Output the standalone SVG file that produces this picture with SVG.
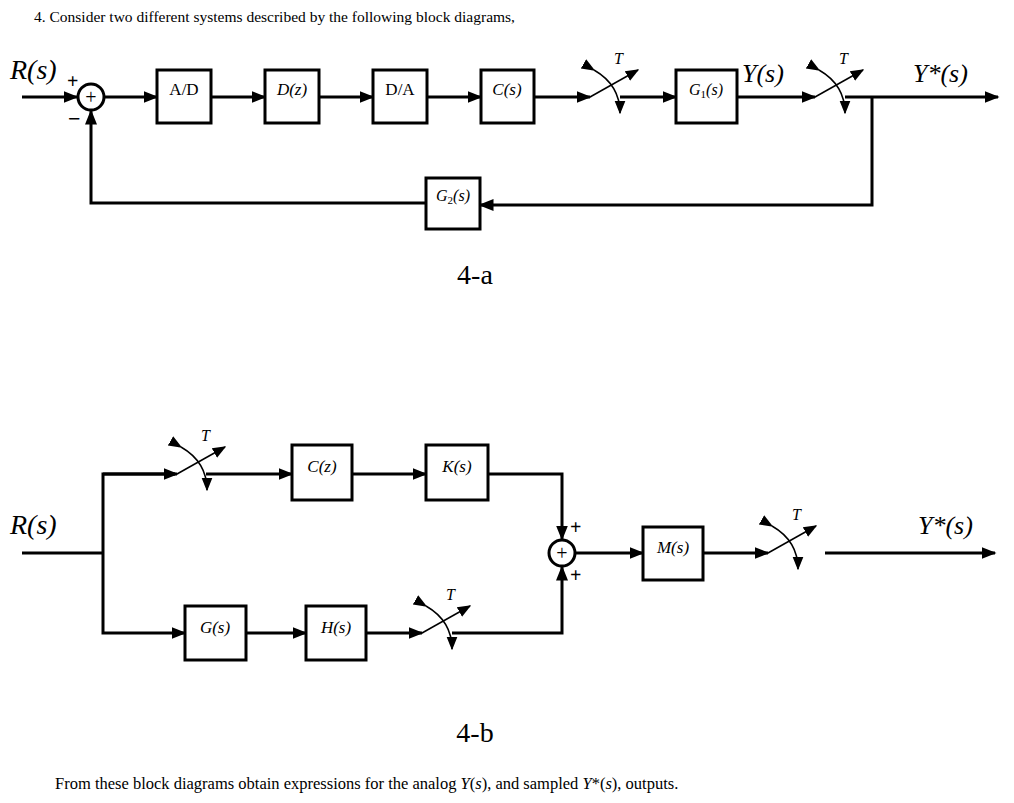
<svg xmlns="http://www.w3.org/2000/svg" xmlns:xlink="http://www.w3.org/1999/xlink" width="1014" height="803" viewBox="0 0 1014 803">
<style>
.w{stroke:#000;stroke-width:3;fill:none}
.b{stroke:#000;stroke-width:3;fill:#fff}
.t{font-family:'Liberation Serif','DejaVu Serif',serif;fill:#000}
.i{font-family:'Liberation Serif','DejaVu Serif',serif;font-style:italic;fill:#000}
.s{stroke:#000;stroke-width:1.5;fill:none}
</style>
<defs>
<marker id="a" viewBox="0 0 10 10" refX="9" refY="5" markerWidth="5" markerHeight="5" orient="auto" markerUnits="strokeWidth"><path d="M0,1 L10,5 L0,9 z"/></marker>
<marker id="as" viewBox="0 0 10 10" refX="9" refY="5" markerWidth="9" markerHeight="9" orient="auto" markerUnits="strokeWidth"><path d="M0,1 L10,5 L0,9 z"/></marker>
<g id="sw">
<line x1="0" y1="0" x2="48" y2="-27" class="s" marker-end="url(#as)"/>
<path d="M4,-27 Q30,-12 30,16" class="s" marker-start="url(#as)" marker-end="url(#as)"/>
<text x="24" y="-33" class="i" font-size="16">T</text>
</g>
</defs>
<text x="34" y="22" class="t" font-size="15.5">4. Consider two different systems described by the following block diagrams,</text>

<g id="connectors">
<line x1="22" y1="97" x2="77" y2="97" class="w" marker-end="url(#a)"/>
<line x1="104" y1="97" x2="157" y2="97" class="w" marker-end="url(#a)"/>
<line x1="211" y1="97" x2="265" y2="97" class="w" marker-end="url(#a)"/>
<line x1="319" y1="97" x2="373" y2="97" class="w" marker-end="url(#a)"/>
<line x1="427" y1="97" x2="481" y2="97" class="w" marker-end="url(#a)"/>
<line x1="534" y1="97" x2="590" y2="97" class="w" marker-end="url(#a)"/>
<line x1="620" y1="97" x2="676" y2="97" class="w" marker-end="url(#a)"/>
<line x1="737" y1="97" x2="815" y2="97" class="w" marker-end="url(#a)"/>
<line x1="845" y1="97" x2="998" y2="97" class="w" marker-end="url(#a)"/>
<polyline points="872,97 872,205 480,205" class="w" marker-end="url(#a)"/>
<polyline points="426,203 91,203 91,111" class="w" marker-end="url(#a)"/>

<line x1="22" y1="553" x2="103" y2="553" class="w"/>
<polyline points="175,474 103,474 103,633 185,633" class="w" marker-end="url(#a)"/>
<line x1="103" y1="474" x2="177" y2="474" class="w" marker-end="url(#a)"/>
<line x1="206" y1="474" x2="292" y2="474" class="w" marker-end="url(#a)"/>
<line x1="352" y1="474" x2="426" y2="474" class="w" marker-end="url(#a)"/>
<polyline points="488,474 562,474 562,539" class="w" marker-end="url(#a)"/>
<line x1="246" y1="633" x2="306" y2="633" class="w" marker-end="url(#a)"/>
<line x1="366" y1="633" x2="422" y2="633" class="w" marker-end="url(#a)"/>
<polyline points="452,633 562,633 562,567" class="w" marker-end="url(#a)"/>
<line x1="576" y1="553" x2="643" y2="553" class="w" marker-end="url(#a)"/>
<line x1="703" y1="553" x2="768" y2="553" class="w" marker-end="url(#a)"/>
<line x1="825" y1="553" x2="995" y2="553" class="w" marker-end="url(#a)"/>
</g>

<use xlink:href="#sw" x="590" y="97"/>
<use xlink:href="#sw" x="815" y="97"/>
<use xlink:href="#sw" x="177" y="474"/>
<use xlink:href="#sw" x="422" y="633"/>
<use xlink:href="#sw" x="768" y="553"/>

<text x="10" y="79" class="i" font-size="28">R(s)</text>
<text x="67" y="88" class="t" font-size="20" font-weight="bold">+</text>
<text x="68" y="126" class="t" font-size="22" font-weight="bold">−</text>
<text x="742" y="82" class="i" font-size="26">Y(s)</text>
<text x="913" y="82" class="i" font-size="26">Y*(s)</text>

<g id="sum1"><circle cx="91" cy="97" r="13" class="b"/><text x="91" y="104" class="t" font-size="20" text-anchor="middle">+</text></g>
<g id="ad"><rect x="157" y="70" width="54" height="53" class="b"/><text x="184" y="95" class="t" font-size="17" text-anchor="middle">A/D</text></g>
<g id="dz"><rect x="265" y="70" width="54" height="53" class="b"/><text x="292" y="95" class="i" font-size="17" text-anchor="middle">D(z)</text></g>
<g id="da"><rect x="373" y="70" width="54" height="53" class="b"/><text x="400" y="95" class="t" font-size="17" text-anchor="middle">D/A</text></g>
<g id="cs"><rect x="481" y="70" width="53" height="53" class="b"/><text x="507" y="95" class="i" font-size="17" text-anchor="middle">C(s)</text></g>
<g id="g1"><rect x="676" y="70" width="61" height="53" class="b"/><text x="706" y="95" class="i" font-size="16" text-anchor="middle">G<tspan font-size="11" dy="3" font-style="normal">1</tspan><tspan dy="-3">(s)</tspan></text></g>
<g id="g2"><rect x="426" y="178" width="54" height="51" class="b"/><text x="453" y="201" class="i" font-size="16" text-anchor="middle">G<tspan font-size="11" dy="3" font-style="normal">2</tspan><tspan dy="-3">(s)</tspan></text></g>
<text x="475" y="284" class="t" font-size="28" text-anchor="middle">4-a</text>

<text x="10" y="534" class="i" font-size="28">R(s)</text>
<text x="918" y="534" class="i" font-size="26">Y*(s)</text>
<text x="570" y="534" class="t" font-size="20" font-weight="bold">+</text>
<text x="570" y="582" class="t" font-size="20" font-weight="bold">+</text>
<g id="cz"><rect x="292" y="445" width="60" height="55" class="b"/><text x="322" y="472" class="i" font-size="17" text-anchor="middle">C(z)</text></g>
<g id="ks"><rect x="426" y="445" width="62" height="55" class="b"/><text x="457" y="472" class="i" font-size="17" text-anchor="middle">K(s)</text></g>
<g id="gs"><rect x="185" y="606" width="61" height="54" class="b"/><text x="215" y="633" class="i" font-size="17" text-anchor="middle">G(s)</text></g>
<g id="hs"><rect x="306" y="606" width="60" height="54" class="b"/><text x="336" y="633" class="i" font-size="17" text-anchor="middle">H(s)</text></g>
<g id="sum2"><circle cx="562" cy="553" r="13" class="b"/><text x="562" y="560" class="t" font-size="20" text-anchor="middle">+</text></g>
<g id="ms"><rect x="643" y="527" width="60" height="53" class="b"/><text x="673" y="553" class="i" font-size="17" text-anchor="middle">M(s)</text></g>
<text x="475" y="742" class="t" font-size="28" text-anchor="middle">4-b</text>
<text x="55" y="789" class="t" font-size="16.5">From these block diagrams obtain expressions for the analog <tspan class="i">Y</tspan>(<tspan class="i">s</tspan>), and sampled <tspan class="i">Y</tspan>*(<tspan class="i">s</tspan>), outputs.</text>
</svg>
